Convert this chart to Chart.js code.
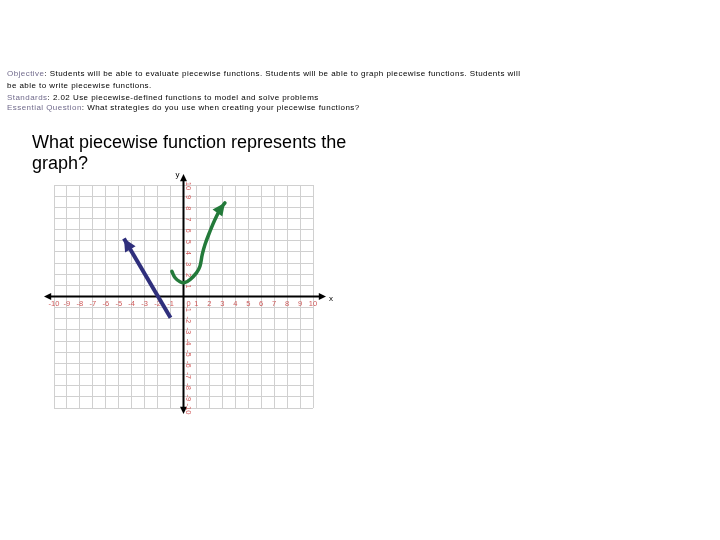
<!DOCTYPE html>
<html>
<head>
<meta charset="utf-8">
<script src="https://cdn.jsdelivr.net/npm/chart.js@4.4.1/dist/chart.umd.min.js"></script>
<style>
  body { margin: 0; background: #fff; }
  #wrap { position: relative; width: 720px; height: 540px; }
  #graph { position: absolute; left: 0; top: 0; }
  .hdr { position: absolute; left: 7px; font: 8px "Liberation Sans", Arial, sans-serif; letter-spacing: 0.45px; color: #000; white-space: nowrap; }
  .hdr b { font-weight: normal; color: #716b8c; }
  .ttl { position: absolute; left: 32px; font: 18px "Liberation Sans", Arial, sans-serif; color: #000; white-space: nowrap; }
</style>
</head>
<body>
<div id="wrap">
  <canvas id="graph" width="720" height="540"></canvas>
  <div class="hdr" style="top:69px"><b>Objective</b>: Students will be able to evaluate piecewise functions. Students will be able to graph piecewise functions. Students will</div>
  <div class="hdr" style="top:81px">be able to write piecewise functions.</div>
  <div class="hdr" style="top:93px"><b>Standards</b>: 2.02 Use piecewise-defined functions to model and solve problems</div>
  <div class="hdr" style="top:103px"><b>Essential Question</b>: What strategies do you use when creating your piecewise functions?</div>
  <div class="ttl" style="top:132px">What piecewise function represents the</div>
  <div class="ttl" style="top:153px">graph?</div>
</div>
<script>
const xTicks = [-10, -9, -8, -7, -6, -5, -4, -3, -2, -1, 0, 1, 2, 3, 4, 5, 6, 7, 8, 9, 10];
const yTicks = [-10, -9, -8, -7, -6, -5, -4, -3, -2, -1, 1, 2, 3, 4, 5, 6, 7, 8, 9, 10];

// hand-drawn pieces
const blueX = [-1, -4.6];
const blueY = [-1.9, 5.2];
const greenX = [-0.9, -0.65, -0.27, 0.06, 0.5, 1.0, 1.27, 1.45, 1.66, 2.05, 2.43, 2.82, 3.2];
const greenY = [2.25, 1.68, 1.32, 1.23, 1.52, 2.12, 2.72, 3.77, 4.66, 5.86, 6.9, 7.8, 8.4];

const toPoints = (xs, ys) => xs.map((x, i) => ({ x: x, y: ys[i] }));

const drawArrowHead = (ctx, from, to, color, size) => {
  const ang = Math.atan2(to.y - from.y, to.x - from.x);
  ctx.save();
  ctx.fillStyle = color;
  ctx.beginPath();
  ctx.moveTo(to.x, to.y);
  ctx.lineTo(to.x - size * Math.cos(ang - 0.45), to.y - size * Math.sin(ang - 0.45));
  ctx.lineTo(to.x - size * Math.cos(ang + 0.45), to.y - size * Math.sin(ang + 0.45));
  ctx.closePath();
  ctx.fill();
  ctx.restore();
}

const axesPlugin = {
  id: 'axesPlugin',
  beforeDatasetsDraw(chart) {
    const { ctx, scales: { x, y } } = chart;
    const x0 = x.getPixelForValue(0);
    const y0 = y.getPixelForValue(0);
    const left = x.getPixelForValue(-10) - 10;
    const right = x.getPixelForValue(10) + 13;
    const top = y.getPixelForValue(10) - 11;
    const bottom = y.getPixelForValue(-10) + 6;

    ctx.save();
    ctx.strokeStyle = '#000';
    ctx.lineWidth = 2;
    ctx.beginPath();
    ctx.moveTo(left + 4, y0);
    ctx.lineTo(right - 4, y0);
    ctx.moveTo(x0, top + 4);
    ctx.lineTo(x0, bottom - 4);
    ctx.stroke();
    drawArrowHead(ctx, { x: x0, y: y0 }, { x: right, y: y0 }, '#000', 8);
    drawArrowHead(ctx, { x: x0, y: y0 }, { x: left, y: y0 }, '#000', 8);
    drawArrowHead(ctx, { x: x0, y: y0 }, { x: x0, y: top }, '#000', 8);
    drawArrowHead(ctx, { x: x0, y: y0 }, { x: x0, y: bottom }, '#000', 8);

    ctx.font = '7.5px "Liberation Sans", Arial, sans-serif';
    ctx.fillStyle = '#cf5a5a';
    ctx.textAlign = 'center';
    ctx.textBaseline = 'middle';
    xTicks.forEach(v => {
      const px = x.getPixelForValue(v) + (v === 0 ? 5 : 0);
      ctx.fillText(String(v), px, y0 + 7);
    });
    yTicks.forEach(v => {
      ctx.save();
      ctx.translate(x0 + 5, y.getPixelForValue(v) + 1);
      ctx.rotate(Math.PI / 2);
      ctx.fillText(String(v), 0, 0);
      ctx.restore();
    });

    ctx.fillStyle = '#000';
    ctx.font = '8px "Liberation Sans", Arial, sans-serif';
    ctx.fillText('x', right + 5, y0 + 2);
    ctx.fillText('y', x0 - 6, top + 1);
    ctx.restore();
  },
  afterDatasetsDraw(chart) {
    const { ctx } = chart;
    chart.data.datasets.forEach((ds, i) => {
      const pts = chart.getDatasetMeta(i).data;
      const a = pts[pts.length - 2];
      const b = pts[pts.length - 1];
      drawArrowHead(ctx, { x: a.x, y: a.y }, { x: b.x, y: b.y }, ds.borderColor, 14);
    });
  }
};

new Chart(document.getElementById('graph'), {
  type: 'line',
  data: {
    datasets: [
      {
        data: toPoints(blueX, blueY),
        borderColor: '#2f2f7c',
        borderWidth: 4,
        pointRadius: 0,
        tension: 0
      },
      {
        data: toPoints(greenX, greenY),
        borderColor: '#237a3a',
        borderWidth: 3.5,
        pointRadius: 0,
        tension: 0.4,
        borderCapStyle: 'round'
      }
    ]
  },
  options: {
    responsive: false,
    animation: false,
    layout: { padding: { left: 54, right: 407, top: 185, bottom: 132 } },
    plugins: { legend: { display: false }, tooltip: { enabled: false } },
    scales: {
      x: {
        type: 'linear', min: -10, max: 10,
        ticks: { display: false, stepSize: 1 },
        grid: { color: '#d0d0d0', drawTicks: false },
        border: { display: false }
      },
      y: {
        type: 'linear', min: -10, max: 10,
        ticks: { display: false, stepSize: 1 },
        grid: { color: '#d0d0d0', drawTicks: false },
        border: { display: false }
      }
    }
  },
  plugins: [axesPlugin]
});
</script>
</body>
</html>
